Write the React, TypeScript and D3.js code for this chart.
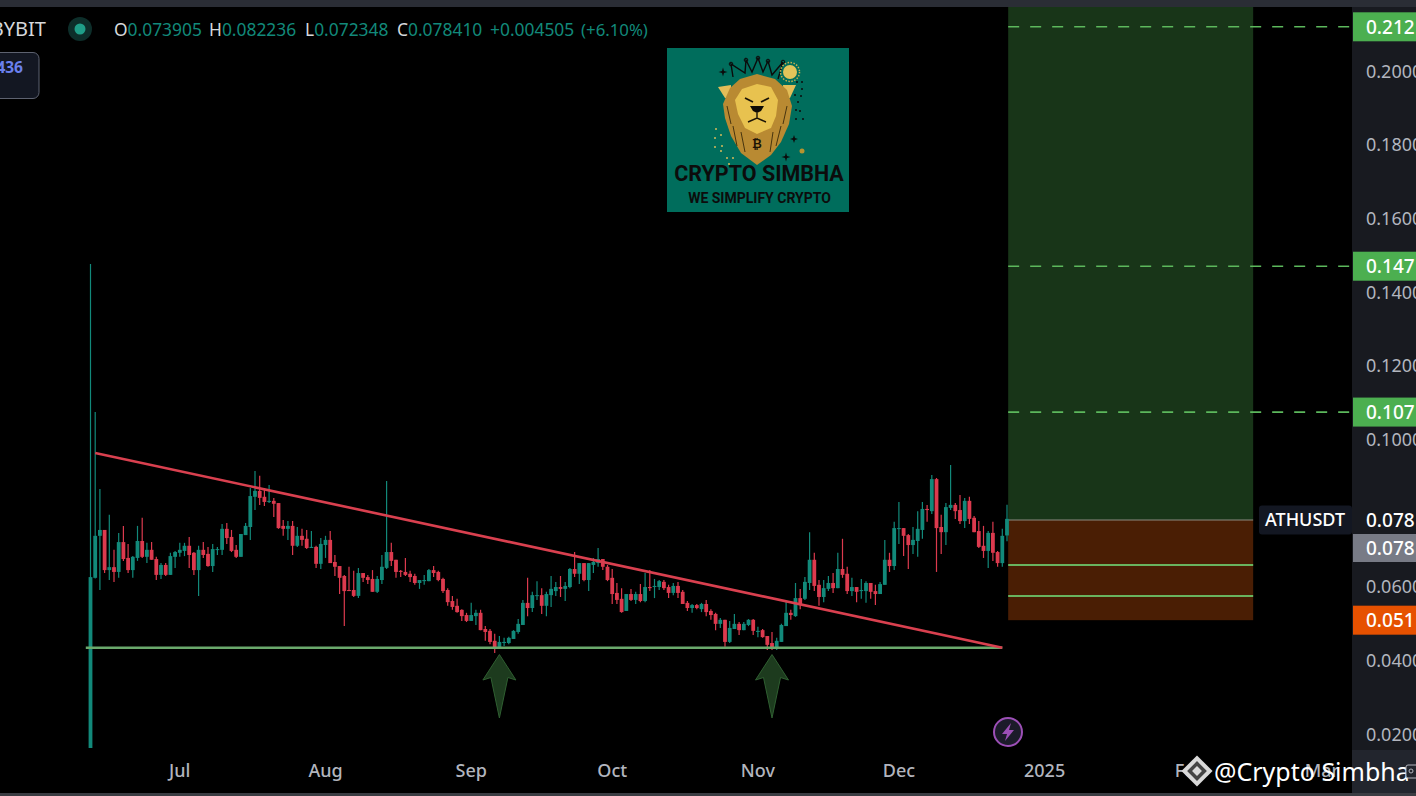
import * as d3 from "d3";

// daily candles from 2024-06-12: open, high, low, close
const candleStart = new Date(Date.UTC(2024, 5, 12));
const candles: number[][] = [
  [.0162,.1476,.0162,.0626],[.0624,.1074,.0622,.0738],[.0738,.0865,.0591,.0754],[.0754,.0754,.0637,.0645],[.0645,.0795,.0618,.0653],
  [.0653,.0700,.0613,.0640],[.0640,.0746,.0624,.0721],[.0721,.0765,.0670,.0675],[.0678,.0716,.0637,.0645],[.0645,.0683,.0624,.0681],
  [.0678,.0765,.0670,.0724],[.0724,.0787,.0678,.0681],[.0681,.0719,.0664,.0700],[.0700,.0721,.0673,.0673],[.0675,.0681,.0618,.0632],
  [.0632,.0664,.0621,.0659],[.0659,.0664,.0629,.0632],[.0632,.0692,.0632,.0683],[.0681,.0697,.0651,.0694],[.0692,.0719,.0681,.0700],
  [.0697,.0719,.0683,.0711],[.0711,.0735,.0651,.0686],[.0692,.0694,.0632,.0645],[.0645,.0711,.0575,.0700],[.0700,.0721,.0678,.0686],
  [.0689,.0708,.0654,.0656],[.0656,.0716,.0640,.0702],[.0700,.0708,.0686,.0702],[.0700,.0770,.0686,.0757],[.0757,.0773,.0716,.0732],
  [.0735,.0754,.0694,.0697],[.0700,.0713,.0678,.0681],[.0681,.0743,.0681,.0743],[.0740,.0773,.0740,.0765],[.0762,.0868,.0727,.0846],
  [.0844,.0914,.0808,.0860],[.0860,.0901,.0822,.0841],[.0844,.0863,.0819,.0830],[.0830,.0876,.0827,.0833],[.0833,.0841,.0789,.0825],
  [.0827,.0827,.0757,.0759],[.0765,.0781,.0738,.0757],[.0757,.0778,.0727,.0765],[.0765,.0778,.0686,.0711],[.0711,.0762,.0708,.0738],
  [.0738,.0757,.0711,.0727],[.0730,.0754,.0702,.0705],[.0705,.0751,.0705,.0708],[.0708,.0711,.0651,.0662],[.0662,.0732,.0648,.0716],
  [.0713,.0738,.0678,.0727],[.0727,.0751,.0664,.0664],[.0667,.0686,.0629,.0654],[.0656,.0656,.0580,.0624],[.0629,.0632,.0493,.0588],
  [.0591,.0654,.0588,.0588],[.0591,.0643,.0572,.0575],[.0575,.0651,.0569,.0637],[.0637,.0637,.0613,.0624],[.0626,.0632,.0607,.0618],
  [.0621,.0645,.0586,.0586],[.0586,.0629,.0583,.0621],[.0618,.0686,.0607,.0654],[.0651,.0887,.0648,.0694],[.0694,.0719,.0656,.0670],
  [.0673,.0673,.0624,.0640],[.0643,.0645,.0626,.0640],[.0640,.0678,.0629,.0632],[.0635,.0643,.0613,.0626],[.0629,.0635,.0605,.0610],
  [.0610,.0618,.0594,.0618],[.0615,.0632,.0605,.0618],[.0615,.0648,.0615,.0645],[.0645,.0656,.0626,.0637],[.0640,.0643,.0615,.0618],
  [.0621,.0624,.0583,.0588],[.0591,.0596,.0548,.0558],[.0561,.0575,.0537,.0545],[.0548,.0567,.0529,.0531],[.0537,.0539,.0507,.0520],
  [.0523,.0529,.0504,.0507],[.0507,.0556,.0507,.0523],[.0520,.0537,.0496,.0529],[.0529,.0537,.0482,.0482],[.0485,.0493,.0453,.0477],
  [.0480,.0485,.0444,.0450],[.0453,.0472,.0420,.0434],[.0434,.0466,.0434,.0450],[.0447,.0461,.0439,.0450],[.0447,.0464,.0444,.0461],
  [.0458,.0482,.0458,.0480],[.0477,.0512,.0472,.0499],[.0496,.0564,.0496,.0556],[.0556,.0624,.0520,.0542],[.0542,.0586,.0531,.0577],
  [.0575,.0615,.0564,.0577],[.0577,.0596,.0526,.0548],[.0548,.0586,.0520,.0580],[.0577,.0629,.0545,.0594],[.0588,.0613,.0575,.0599],
  [.0599,.0629,.0572,.0594],[.0594,.0613,.0561,.0602],[.0599,.0651,.0596,.0648],[.0648,.0694,.0626,.0635],[.0635,.0664,.0607,.0664],
  [.0664,.0664,.0615,.0618],[.0618,.0664,.0588,.0664],[.0659,.0678,.0637,.0667],[.0664,.0705,.0654,.0675],[.0675,.0675,.0645,.0654],
  [.0654,.0659,.0615,.0618],[.0624,.0648,.0553,.0580],[.0583,.0610,.0553,.0564],[.0567,.0596,.0529,.0531],[.0534,.0580,.0534,.0580],
  [.0580,.0594,.0561,.0564],[.0564,.0586,.0553,.0580],[.0580,.0607,.0558,.0561],[.0561,.0637,.0558,.0599],[.0599,.0645,.0588,.0596],
  [.0599,.0621,.0569,.0602],[.0599,.0618,.0591,.0615],[.0613,.0618,.0591,.0596],[.0599,.0605,.0569,.0583],[.0583,.0610,.0577,.0602],
  [.0602,.0613,.0569,.0583],[.0586,.0591,.0553,.0553],[.0556,.0561,.0534,.0542],[.0542,.0553,.0529,.0550],[.0550,.0553,.0539,.0542],
  [.0539,.0556,.0531,.0553],[.0553,.0564,.0520,.0531],[.0534,.0539,.0510,.0523],[.0526,.0529,.0482,.0499],[.0499,.0515,.0488,.0510],
  [.0510,.0510,.0437,.0450],[.0450,.0507,.0447,.0488],[.0485,.0526,.0485,.0499],[.0499,.0504,.0469,.0482],[.0482,.0504,.0482,.0499],
  [.0496,.0512,.0493,.0510],[.0510,.0512,.0469,.0480],[.0477,.0491,.0463,.0480],[.0482,.0485,.0461,.0463],[.0466,.0466,.0428,.0442],
  [.0447,.0477,.0428,.0436],[.0436,.0461,.0428,.0453],[.0450,.0499,.0450,.0496],[.0493,.0561,.0493,.0529],[.0529,.0537,.0510,.0523],
  [.0520,.0610,.0518,.0569],[.0569,.0594,.0539,.0553],[.0567,.0626,.0564,.0613],[.0610,.0748,.0591,.0673],[.0673,.0692,.0588,.0602],
  [.0605,.0618,.0548,.0572],[.0572,.0618,.0558,.0596],[.0594,.0629,.0588,.0610],[.0610,.0637,.0583,.0596],[.0596,.0692,.0596,.0648],
  [.0648,.0730,.0624,.0632],[.0635,.0654,.0580,.0588],[.0588,.0624,.0575,.0599],[.0599,.0599,.0558,.0586],[.0588,.0621,.0567,.0591],
  [.0588,.0615,.0556,.0610],[.0610,.0610,.0567,.0586],[.0588,.0605,.0550,.0580],[.0580,.0613,.0580,.0607],[.0605,.0727,.0605,.0673],
  [.0673,.0692,.0640,.0656],[.0656,.0776,.0645,.0759],[.0757,.0830,.0716,.0759],[.0759,.0759,.0683,.0738],[.0740,.0743,.0648,.0713],
  [.0713,.0762,.0689,.0727],[.0724,.0805,.0681,.0757],[.0754,.0830,.0730,.0811],[.0811,.0822,.0776,.0808],[.0805,.0903,.0797,.0892],
  [.0892,.0895,.0640,.0759],[.0762,.0795,.0689,.0748],[.0748,.0827,.0713,.0816],[.0814,.0930,.0808,.0822],[.0822,.0827,.0784,.0805],
  [.0808,.0849,.0770,.0778],[.0778,.0841,.0759,.0833],[.0833,.0844,.0770,.0784],[.0787,.0792,.0748,.0748],[.0751,.0778,.0705,.0708],
  [.0711,.0765,.0678,.0697],[.0697,.0751,.0651,.0746],[.0746,.0776,.0670,.0692],[.0694,.0697,.0654,.0664],[.0664,.0757,.0654,.0738],
  [.073905,.082236,.072348,.07841],
];

const priceTicks = [0.2, 0.18, 0.16, 0.14, 0.12, 0.1, 0.06, 0.04, 0.02];
const monthTicks = [
  { label: "Jul", date: new Date(Date.UTC(2024, 6, 1)) },
  { label: "Aug", date: new Date(Date.UTC(2024, 7, 1)) },
  { label: "Sep", date: new Date(Date.UTC(2024, 8, 1)) },
  { label: "Oct", date: new Date(Date.UTC(2024, 9, 1)) },
  { label: "Nov", date: new Date(Date.UTC(2024, 10, 1)) },
  { label: "Dec", date: new Date(Date.UTC(2024, 11, 1)) },
  { label: "2025", date: new Date(Date.UTC(2025, 0, 1)) },
  { label: "Feb", date: new Date(Date.UTC(2025, 1, 1)) },
  { label: "Mar", date: new Date(Date.UTC(2025, 2, 1)) },
];

// drawn lines and the long position box
const resistance = [
  { date: new Date(Date.UTC(2024, 5, 13)), price: 0.0963 },
  { date: new Date(Date.UTC(2024, 11, 23)), price: 0.0434 },
];
const support = [
  { date: new Date(Date.UTC(2024, 5, 11)), price: 0.0434 },
  { date: new Date(Date.UTC(2024, 11, 23)), price: 0.0434 },
];
const arrowDates = [new Date(Date.UTC(2024, 8, 7)), new Date(Date.UTC(2024, 10, 4))];
const positionStart = new Date(Date.UTC(2024, 11, 24, 6));
const positionEnd = new Date(Date.UTC(2025, 1, 14, 9));
const entryPrice = 0.0781;
const stopPrice = 0.0509;
const topPrice = 0.2174;
const targets = [0.212, 0.147, 0.1074];
const targetLabels = ["0.212", "0.147", "0.107"];
const stopLevels = [0.0659, 0.0575];

const ohlcParts = [
  { key: "O", value: "0.073905", x: 114 },
  { key: "H", value: "0.082236", x: 209 },
  { key: "L", value: "0.072348", x: 305 },
  { key: "C", value: "0.078410", x: 397 },
];

const x = d3
  .scaleUtc()
  .domain([candleStart, new Date(Date.UTC(2025, 2, 1))])
  .range([90.5, 1321.9]);
const y = d3.scaleLinear().domain([0.02, 0.2]).range([734, 71]);

const up = "#12897a";
const down = "#dc3a4e";
const font = "'Noto Sans', sans-serif";
const axisRight = 1352;

const priceLine = d3
  .line<{ date: Date; price: number }>()
  .x((d) => x(d.date))
  .y((d) => y(d.price));

function Logo() {
  return (
    <g>
      <rect x={667} y={48} width={182} height={164} fill="#006d5c" />
      {/* crown */}
      <path d="M733 77 L731 64 L745 73 L746 60 L752 72 L758 58 L763 72 L768 61 L772 75 L783 62 L778 79" fill="none" stroke="#0b0b0b" strokeWidth={1.4} />
      {[[731, 64], [746, 60], [758, 58], [768, 61], [783, 62]].map(([cx, cy], i) => (
        <circle key={i} cx={cx} cy={cy} r={1.8} fill="none" stroke="#0b0b0b" />
      ))}
      <circle cx={790} cy={72} r={7} fill="#e3c45a" />
      <circle cx={790} cy={72} r={9.5} fill="none" stroke="#c7b04f" strokeWidth={1.5} strokeDasharray="1.5 1.5" />
      {/* ears and mane */}
      <path d="M718 87 L731 85 L731 99 L725 98 Z" fill="#e3bd58" />
      <path d="M796 85 L783 85 L784 99 L790 98 Z" fill="#e3bd58" />
      <path d="M757 165 L741 153 L731 136 L725 118 L723 104 L730 88 L740 79 L757 74 L775 79 L787 90 L792 106 L789 124 L781 142 L771 155 Z" fill="#b98a32" />
      <path d="M757 84 L771 87 L778 100 L776 116 L771 128 L757 134 L745 128 L738 114 L735 100 L742 89 Z" fill="#e8c24f" />
      <path d="M745 98 L753 102 M769 98 L761 102" stroke="#1b1406" strokeWidth={1.8} fill="none" />
      <path d="M750 106 L764 106 L761 111 L757 113 L753 111 Z" fill="#0d0a04" />
      <path d="M757 113 L757 118 M748 122 L757 118 L766 122" stroke="#1b1406" strokeWidth={1.4} fill="none" />
      <path d="M733 126 L737 146 M781 126 L776 146 M741 132 L745 152 M773 132 L770 152 M727 106 L731 124 M787 106 L783 124" stroke="#3a2a0a" strokeWidth={0.9} fill="none" />
      <text x={757} y={148} textAnchor="middle" fontFamily="'DejaVu Sans', sans-serif" fontSize={12} fontWeight={700} fill="#1b1406">
        ₿
      </text>
      {/* sparkles */}
      {[[723, 72, 4.5], [794, 139, 4], [786, 157, 4.5]].map(([cx, cy, r], i) => (
        <path key={i} d={`M${cx} ${cy - r} L${cx + 1} ${cy - 1} L${cx + r} ${cy} L${cx + 1} ${cy + 1} L${cx} ${cy + r} L${cx - 1} ${cy + 1} L${cx - r} ${cy} L${cx - 1} ${cy - 1} Z`} fill="#0b0b0b" />
      ))}
      {[[797, 82], [802, 82], [802, 89], [801, 96], [795, 95], [798, 102], [796, 110], [800, 111], [796, 119], [803, 119]].map(([cx, cy], i) => (
        <circle key={i} cx={cx} cy={cy} r={1} fill="#0b0b0b" />
      ))}
      {[[716, 129], [721, 135], [715, 138], [722, 146], [715, 147], [721, 151], [727, 158], [733, 158], [729, 164]].map(([cx, cy], i) => (
        <circle key={i} cx={cx} cy={cy} r={1} fill="#d3bb5a" />
      ))}
      <circle cx={802} cy={151} r={2.5} fill="#b5942f" />
      <text x={759} y={181} textAnchor="middle" fontFamily="Roboto, sans-serif" fontWeight={700} fontSize={21.5} fill="#0c0c0c">
        CRYPTO SIMBHA
      </text>
      <text x={759.5} y={203} textAnchor="middle" fontFamily="Roboto, sans-serif" fontWeight={700} fontSize={14} fill="#0c0c0c">
        WE SIMPLIFY CRYPTO
      </text>
    </g>
  );
}

function Arrow({ date }: { date: Date }) {
  const cx = x(date);
  const d = `M${cx} 654.5 L${cx + 16.5} 680 L${cx + 8.5} 677.5 L${cx} 718 L${cx - 8.5} 677.5 L${cx - 16.5} 680 Z`;
  return <path d={d} fill="#1d3b1e" stroke="#2f5f31" strokeWidth={1} />;
}

function AxisLabel({ price, text, fill }: { price: number; text: string; fill: string }) {
  return (
    <g>
      <rect x={axisRight + 1} y={y(price) - 14.5} width={64} height={29} fill={fill} />
      <text x={1366} y={y(price) + 7} fontFamily={font} fontSize={19} fontWeight={500} fill="#fff">
        {text}
      </text>
    </g>
  );
}

export default function App() {
  const boxLeft = x(positionStart);
  const boxRight = x(positionEnd);

  return (
    <svg width={1416} height={796} style={{ position: "absolute", left: 0, top: 0, display: "block", background: "#000" }}>
      <rect width={1416} height={796} fill="#000" />

      {/* position box */}
      <rect x={boxLeft} y={y(topPrice)} width={boxRight - boxLeft} height={y(entryPrice) - y(topPrice)} fill="#183518" />
      <rect x={boxLeft} y={y(entryPrice)} width={boxRight - boxLeft} height={y(stopPrice) - y(entryPrice)} fill="#4a1e04" />
      <line x1={boxLeft} x2={boxRight} y1={y(entryPrice)} y2={y(entryPrice)} stroke="#8a8a80" strokeWidth={1.2} />
      {stopLevels.map((p) => (
        <line key={p} x1={boxLeft} x2={boxRight} y1={y(p)} y2={y(p)} stroke="#69b45f" strokeWidth={2} />
      ))}
      {targets.map((p) => (
        <line key={p} x1={boxLeft} x2={axisRight} y1={y(p)} y2={y(p)} stroke="#5cb85c" strokeWidth={1.6} strokeDasharray="11 11" />
      ))}

      {/* candles */}
      {candles.map(([open, high, low, close], i) => {
        const cx = x(d3.utcDay.offset(candleStart, i));
        const color = close >= open ? up : down;
        const top = y(Math.max(open, close));
        const bottom = y(Math.min(open, close));
        return (
          <g key={i}>
            <line x1={cx} x2={cx} y1={y(high)} y2={y(low)} stroke={color} strokeWidth={1.2} />
            <rect x={cx - 1.9} y={top} width={3.8} height={Math.max(bottom - top, 1)} fill={color} />
          </g>
        );
      })}

      {/* trend lines */}
      <path d={priceLine(support) ?? ""} fill="none" stroke="#6aa96c" strokeWidth={2.4} />
      <path d={priceLine(resistance) ?? ""} fill="none" stroke="#d9404f" strokeWidth={2.6} />
      {arrowDates.map((d) => (
        <Arrow key={d.getTime()} date={d} />
      ))}

      <Logo />

      {/* header */}
      <text x={46} y={36} textAnchor="end" fontFamily={font} fontSize={20} fill="#d6d8dc">
        BYBIT
      </text>
      <circle cx={80} cy={29} r={12} fill="#0d2e2a" />
      <circle cx={80} cy={29} r={5.5} fill="#1f9e88" />
      {ohlcParts.map((p) => (
        <text key={p.key} x={p.x} y={35.5} fontFamily={font} fontSize={17.4} fill={up}>
          <tspan fill="#d6d8dc">{p.key}</tspan>
          {p.value}
        </text>
      ))}
      <text x={490} y={35.5} fontFamily={font} fontSize={17.4} fill={up}>
        +0.004505
      </text>
      <text x={581} y={35.5} fontFamily={font} fontSize={16.8} fill={up}>
        (+6.10%)
      </text>
      <rect x={-20} y={52.5} width={59} height={46} rx={6} fill="#131722" stroke="#5d6270" />
      <text x={23} y={73} textAnchor="end" fontFamily={font} fontSize={15.5} fontWeight={700} fill="#6a80ee">
        436
      </text>

      {/* price axis */}
      <rect x={axisRight} y={7} width={64} height={743} fill="#181a20" />
      <rect x={axisRight} y={750} width={64} height={43} fill="#22252d" />
      {priceTicks.map((t) => (
        <text key={t} x={1366} y={y(t) + 6.5} fontFamily={font} fontSize={18} fill="#b2b5be">
          {t.toFixed(4)}
        </text>
      ))}
      {targets.map((p, i) => (
        <AxisLabel key={p} price={p} text={targetLabels[i]} fill="#4caf50" />
      ))}
      <AxisLabel price={0.0781} text="0.078" fill="#181a20" />
      <rect x={1259} y={505.5} width={93} height={29} rx={3} fill="#131722" />
      <text x={1265} y={526} fontFamily={font} fontSize={18} fontWeight={500} fill="#fff">
        ATHUSDT
      </text>
      <rect x={1353} y={534} width={63} height={28} fill="#787b86" />
      <text x={1366} y={555} fontFamily={font} fontSize={19} fontWeight={500} fill="#fff">
        0.078
      </text>
      <AxisLabel price={stopPrice} text="0.051" fill="#e65100" />

      {/* time axis */}
      {monthTicks.map((t) => (
        <text key={t.label} x={x(t.date)} y={777} textAnchor="middle" fontFamily={font} fontSize={18} fontWeight={500} fill="#b2b5be">
          {t.label}
        </text>
      ))}

      {/* replay badge */}
      <circle cx={1008} cy={732} r={14} fill="#1c1b2a" stroke="#9c4fb6" strokeWidth={2} />
      <path d="M1011 723 L1002 734 L1007 734 L1005 741 L1014 730 L1009 730 Z" fill="#9c4fb6" />

      {/* watermark */}
      <g transform="translate(1197,771)">
        <rect x={-11} y={-11} width={22} height={22} transform="rotate(45)" fill="#d9d9d9" />
        <rect x={-7} y={-7} width={14} height={14} transform="rotate(45)" fill="#444" />
        <rect x={-3.5} y={-3.5} width={7} height={7} transform="rotate(45)" fill="#d9d9d9" />
      </g>
      <text x={1214} y={781} fontFamily={font} fontSize={25} fill="#fff">
        @Crypto Simbha
      </text>
      <rect x={1406} y={765} width={12} height={13} rx={2} fill="#22252d" stroke="#b2b5be" />
      <circle cx={1411} cy={771} r={2} fill="none" stroke="#b2b5be" />

      {/* frame */}
      <rect x={0} y={0} width={1416} height={7} fill="#2a2d35" />
      <rect x={0} y={793} width={1416} height={3} fill="#3a3c42" />
    </svg>
  );
}
